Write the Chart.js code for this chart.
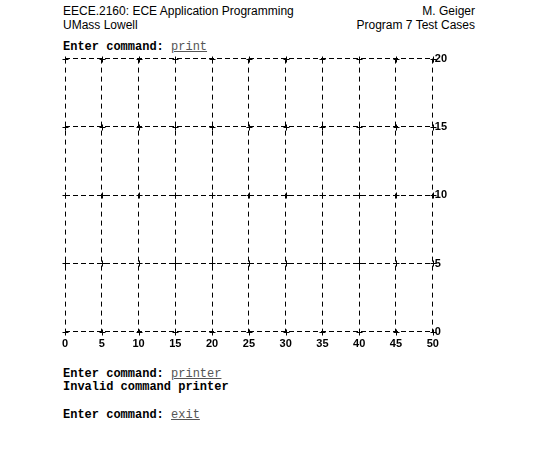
<!DOCTYPE html>
<html><head><meta charset="utf-8">
<script src="https://cdn.jsdelivr.net/npm/chart.js@4/dist/chart.umd.min.js"></script>
<style>
body{margin:0;background:#fff;width:542px;height:466px;position:relative;overflow:hidden}
.t{position:absolute;font-family:"Liberation Sans",Arial,sans-serif;font-size:12px;color:#000;white-space:nowrap}
.c{position:absolute;font-family:"Liberation Mono","Courier New",monospace;font-size:12px;font-weight:bold;white-space:nowrap}
.c u{font-weight:normal;color:#555}
#wrap{position:absolute;left:40px;top:50px;width:430px;height:307px}
</style></head><body>
<div class="t" style="left:63px;top:4px">EECE.2160: ECE Application Programming</div>
<div class="t" style="left:63px;top:18px">UMass Lowell</div>
<div class="t" style="right:67px;top:4px">M. Geiger</div>
<div class="t" style="right:67px;top:18px">Program 7 Test Cases</div>
<div class="c" style="left:63px;top:40px">Enter command: <u>print</u></div>
<div id="wrap"><canvas id="cv"></canvas></div>
<div class="c" style="left:63px;top:367px">Enter command: <u>printer</u></div>
<div class="c" style="left:63px;top:380px">Invalid command printer</div>
<div class="c" style="left:63px;top:408px">Enter command: <u>exit</u></div>
<script>
const xTicks = [0, 5, 10, 15, 20, 25, 30, 35, 40, 45, 50];
const yTicks = [0, 5, 10, 15, 20];
const points = [];

// '+' at each grid crossing, like the text plot
const plusMarks = {
  id: 'plusMarks',
  afterDraw(chart) {
    const { ctx, scales: { x, y } } = chart;
    ctx.save();
    ctx.strokeStyle = '#000';
    ctx.lineWidth = 1;
    yTicks.forEach((yv) => xTicks.forEach((xv) => {
      const px = Math.round(x.getPixelForValue(xv)) + 0.5;
      const py = Math.round(y.getPixelForValue(yv)) + 0.5;
      ctx.beginPath();
      ctx.moveTo(px - 3, py); ctx.lineTo(px + 3, py);
      ctx.moveTo(px, py - 3); ctx.lineTo(px, py + 3);
      ctx.stroke();
    }));
    ctx.restore();
  },
};

const tickFont = { family: 'Liberation Sans, Arial', size: 11, weight: 'bold' };

new Chart(document.getElementById('cv'), {
  type: 'scatter',
  data: { datasets: [{ data: points }] },
  plugins: [plusMarks],
  options: {
    responsive: true, maintainAspectRatio: false, animation: false,
    layout: { padding: { left: 25, top: 4, right: 21, bottom: 0 } },
    plugins: { legend: { display: false }, tooltip: { enabled: false } },
    scales: {
      x: {
        min: 0, max: 50,
        afterBuildTicks: (s) => { s.ticks = xTicks.map((v) => ({ value: v })); },
        grid: { color: '#000', lineWidth: 1, drawTicks: false },
        border: { display: false, dash: [5, 4] },
        ticks: { color: '#000', padding: 6, maxRotation: 0, font: tickFont },
      },
      y: {
        position: 'right', min: 0, max: 20,
        afterBuildTicks: (s) => { s.ticks = yTicks.map((v) => ({ value: v })); },
        grid: { color: '#000', lineWidth: 1, drawTicks: false },
        border: { display: false, dash: [5, 3] },
        ticks: { color: '#000', padding: 2, font: tickFont },
      },
    },
  },
});
</script>
</body></html>
